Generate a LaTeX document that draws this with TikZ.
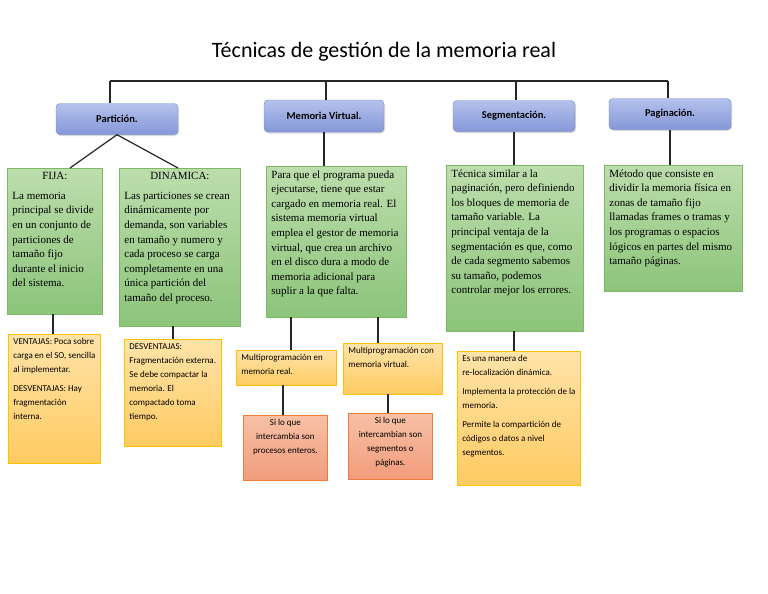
\documentclass[tikz,border=0pt]{standalone}
\usepackage{fontspec}
\setmainfont{Liberation Serif}
\newfontfamily\calfnt{Carlito}
\usetikzlibrary{shadows}
\definecolor{gtop}{HTML}{BCDDAC}\definecolor{gbot}{HTML}{8CC47A}\definecolor{gbd}{HTML}{7DB862}
\definecolor{otop}{HTML}{FFE3A8}\definecolor{obot}{HTML}{FFCB62}\definecolor{obd}{HTML}{FFC000}
\definecolor{rtop}{HTML}{F7C0A6}\definecolor{rbot}{HTML}{F29C7C}\definecolor{rbd}{HTML}{EC7C3A}
\definecolor{btop}{HTML}{B4C2EC}\definecolor{bbot}{HTML}{8597D8}\definecolor{bbd}{HTML}{7389CB}
\tikzset{
 hdr/.style={draw=bbd,rounded corners=4pt,top color=btop,bottom color=bbot,drop shadow={opacity=0.3,shadow xshift=1pt,shadow yshift=-1.5pt},font=\calfnt\bfseries\fontsize{10.5}{12}\selectfont,inner sep=0pt},
 gbox/.style={draw=gbd,line width=0.8pt,top color=gtop,bottom color=gbot,anchor=north west,align=left,inner sep=0pt,font=\fontsize{11}{14.6}\selectfont},
 obox/.style={draw=obd,line width=0.8pt,top color=otop,bottom color=obot,anchor=north west,align=left,inner sep=0pt,font=\calfnt\fontsize{9}{14}\selectfont},
 rbox/.style={draw=rbd,line width=0.8pt,top color=rtop,bottom color=rbot,anchor=north west,align=center,inner sep=0pt,font=\calfnt\fontsize{9}{14}\selectfont},
 ln/.style={line width=1.2pt,black!85}
}
\newcommand{\bx}[7]{% style,name,x1,y1,x2,y2,text
 \node[#1,minimum width=#5pt-#3pt,minimum height=#6pt-#4pt] (#2) at (#3,#4) {\begin{minipage}[c][\dimexpr#6pt-#4pt-8pt\relax][t]{\dimexpr#5pt-#3pt-10pt\relax}#7\end{minipage}};}
\begin{document}
\begin{tikzpicture}[x=1pt,y=-1pt]
\useasboundingbox (0,0) rectangle (768,594);
\fill[white] (0,0) rectangle (768,594);
\node (title) at (384,52) {\calfnt\fontsize{22}{26}\selectfont Técnicas de gestión de la memoria real};
\coordinate (L) at (110,81);\coordinate (R) at (668,81);
\draw[ln] (L) -- (R);
\node[hdr,minimum width=122pt,minimum height=31pt] (part) at (117,119) {Partición.};
\node[hdr,minimum width=120pt,minimum height=32pt] (mv) at (324,116) {Memoria Virtual.};
\node[hdr,minimum width=122pt,minimum height=31pt] (seg) at (514,116) {Segmentación.};
\node[hdr,minimum width=122pt,minimum height=31pt] (pag) at (670,114) {Paginación.};
\draw[ln] (L) -- (part.north -| L);
\draw[ln] (326,81) -- (mv.north -| 326,0);
\draw[ln] (516,81) -- (seg.north -| 516,0);
\draw[ln] (R) -- (pag.north -| R);

\bx{gbox}{fija}{7}{168}{102}{314}{\centering FIJA:\par\vspace{5pt}\raggedright La memoria principal se divide en un conjunto de particiones de tamaño fijo durante el inicio del sistema.}
\bx{gbox}{din}{119}{168}{240}{326}{\centering DINAMICA:\par\vspace{5pt}\raggedright Las particiones se crean dinámicamente por demanda, son variables en tamaño y numero y cada proceso se carga completamente en una única partición del tamaño del proceso.}
\bx{gbox}{mvt}{266}{166}{406}{317}{\raggedright Para que el programa pueda ejecutarse, tiene que estar cargado en memoria real. El sistema memoria virtual emplea el gestor de memoria virtual, que crea un archivo en el disco dura a modo de memoria adicional para suplir a la que falta.}
\bx{gbox}{segt}{446}{165}{583}{331}{\raggedright Técnica similar a la paginación, pero definiendo los bloques de memoria de tamaño variable. La principal ventaja de la segmentación es que, como de cada segmento sabemos su tamaño, podemos controlar mejor los errores.}
\bx{gbox}{pagt}{604}{165}{742}{291}{\raggedright Método que consiste en dividir la memoria física en zonas de tamaño fijo llamadas frames o tramas y los programas o espacios lógicos en partes del mismo tamaño páginas.}

\bx{obox}{vent}{8}{334}{100}{463}{\raggedright VENTAJAS: Poca sobre carga en el SO, sencilla al implementar.\par\vspace{5pt}DESVENTAJAS: Hay fragmentación interna.}
\bx{obox}{desv}{124}{339}{221}{446}{\raggedright DESVENTAJAS: Fragmentación externa. Se debe compactar la memoria. El compactado toma tiempo.}
\bx{obox}{mpr}{236}{350}{336}{385}{\raggedright Multiprogramación en memoria real.}
\bx{obox}{mpv}{343}{343}{442}{394}{\raggedright Multiprogramación con memoria virtual.}
\bx{rbox}{r1}{243}{415}{327}{480}{\centering Si lo que intercambia son procesos enteros.}
\bx{rbox}{r2}{348}{413}{432}{479}{\centering Si lo que intercambian son segmentos o páginas.}
\bx{obox}{sego}{457}{351}{580}{485}{\raggedright Es una manera de re-localización dinámica.\par\vspace{5pt}Implementa la protección de la memoria.\par\vspace{5pt}Permite la compartición de códigos o datos a nivel segmentos.}

\draw[ln] (part.south) -- (70,168);
\draw[ln] (part.south) -- (178,168);
\draw[ln] (mv.south) -- (mvt.north -| mv.south);
\draw[ln] (seg.south) -- (segt.north -| seg.south);
\draw[ln] (pag.south) -- (pagt.north -| pag.south);
\draw[ln] (53,314) -- (vent.north -| 53,0);
\draw[ln] (173,326) -- (desv.north -| 173,0);
\draw[ln] (291,317) -- (mpr.north -| 291,0);
\draw[ln] (378,317) -- (mpv.north -| 378,0);
\draw[ln] (283,385) -- (r1.north -| 283,0);
\draw[ln] (388,394) -- (r2.north -| 388,0);
\draw[ln] (514,331) -- (sego.north -| 514,0);
\end{tikzpicture}
\end{document}
